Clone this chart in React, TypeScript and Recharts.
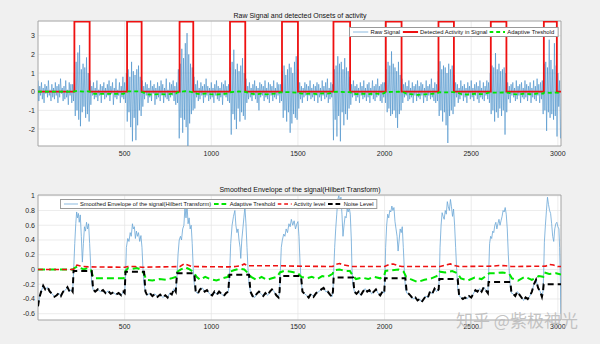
import React from 'react';
import { LineChart, Line, XAxis, YAxis, CartesianGrid, ReferenceArea, Legend } from 'recharts';

const FONT = '"Liberation Sans", Arial, Helvetica, sans-serif';
const GRID = '#e4e4e4';
const BOX = '#9a9a9a';
const TEXT = '#262626';

const X_MAX = 3018;
const xTicks = [500, 1000, 1500, 2000, 2500, 3000];
const rawYTicks = [-2, -1, 0, 1, 2, 3];
const rawYDomain: [number, number] = [-2.91, 3.79];
const envYTicks = [-0.6, -0.4, -0.2, 0, 0.2, 0.4, 0.6, 0.8, 1];
const envYDomain: [number, number] = [-0.685, 1.01];

// raw recording, one value every rawStep samples (rows of 100 samples)
const rawStep = 5;
const rawSignal = [
  0.6, -0.5, 0.3, -0.2, 0.5, -0.4, 0.2, -0.6, 0.4, -0.1, 0.3, -0.3, 0.6, -0.2, 0.1, -0.5, 0.4, -0.3, 0.2, -0.4,
  0.5, -0.2, 0.3, -0.6, 0.4, -0.3, 0.7, -0.1, 0.2, -0.5, 0.3, -0.4, 0.6, -0.3, 0.1, -0.7, 0.5, -0.2, 0.4, -0.6,
  0.4, -0.5, 1.0, -1.3, 1.6, -1.0, 2.1, -1.5, 2.5, -1.85, 1.2, -1.1, 1.5, -0.8, 1.3, -1.4, 1.84, -1.2, 1.0, -1.6,
  0.6, -0.7, 0.3, -0.2, 0.5, -0.4, 0.2, -0.3, 0.6, -0.5, 0.1, -0.2, 0.4, -0.6, 0.3, -0.1, 0.5, -0.4, 0.2, -0.3,
  0.4, -0.2, 0.6, -0.5, 0.3, -0.1, 0.5, -0.7, 0.2, -0.3, 0.7, -0.4, 0.1, -0.2, 0.5, -0.6, 0.3, -0.3, 0.8, -0.4,
  0.5, -0.6, 1.0, -1.6, 1.2, -1.1, 0.8, -1.9, 1.6, -2.66, 1.1, -1.4, 0.9, -2.6, 1.2, -1.8, 1.4, -1.0, 0.8, -1.3,
  0.6, -0.8, 0.3, -0.4, 0.5, -0.2, 0.4, -0.6, 0.2, -0.3, 0.6, -0.5, 0.3, -0.1, 0.4, -0.7, 0.2, -0.4, 0.5, -0.3,
  0.3, -0.5, 0.6, -0.2, 0.4, -0.6, 0.2, -0.3, 0.7, -0.4, 0.1, -0.5, 0.5, -0.3, 0.4, -0.2, 0.6, -0.5, 0.3, -0.7,
  0.5, -0.6, 1.2, -2.5, 1.5, -1.4, 2.3, -2.2, 1.8, -1.5, 2.6, -1.9, 3.14, -2.9, 2.0, -1.7, 1.5, -1.2, 1.3, -1.0,
  0.8, -0.9, 0.4, -0.3, 0.6, -0.5, 0.2, -0.4, 0.5, -0.2, 0.3, -0.6, 0.4, -0.3, 0.7, -0.2, 0.3, -0.5, 0.2, -0.4,
  0.5, -0.3, 0.2, -0.6, 0.4, -0.2, 0.6, -0.4, 0.3, -0.5, 0.2, -0.3, 0.5, -0.7, 0.4, -0.2, 0.6, -0.3, 0.3, -0.5,
  0.4, -0.6, 1.3, -2.3, 1.6, -1.2, 2.25, -1.5, 1.2, -2.0, 1.5, -0.9, 1.1, -1.6, 1.4, -1.1, 1.8, -1.3, 1.0, -1.5,
  0.7, -0.6, 0.3, -0.4, 0.5, -0.3, 0.2, -0.5, 0.4, -0.2, 0.6, -0.4, 0.3, -0.6, 0.2, -1.0, 0.5, -0.3, 0.4, -0.2,
  0.3, -0.5, 0.6, -0.3, 0.2, -0.4, 0.5, -0.6, 0.4, -0.2, 0.3, -0.5, 0.6, -0.3, 0.2, -0.4, 0.5, -0.2, 0.4, -0.6,
  0.4, -0.5, 1.1, -1.4, 1.4, -1.0, 0.9, -1.6, 1.2, -1.1, 1.5, -2.2, 1.3, -1.7, 1.0, -1.2, 1.6, -1.4, 1.9, -1.5,
  1.2, -0.9, 0.5, -0.4, 0.3, -0.6, 0.2, -0.3, 0.5, -0.2, 0.4, -0.5, 0.3, -0.2, 0.6, -0.4, 0.2, -0.3, 0.4, -0.5,
  0.3, -0.2, 0.5, -0.6, 0.4, -0.3, 0.2, -0.5, 0.6, -0.2, 0.3, -0.4, 0.5, -0.3, 0.7, -0.6, 0.2, -0.4, 0.5, -0.3,
  0.4, -2.6, 1.2, -1.5, 1.4, -2.4, 1.9, -1.3, 1.5, -2.66, 1.6, -1.1, 1.2, -1.8, 1.8, -1.2, 1.3, -1.5, 1.1, -0.9,
  0.8, -0.7, 0.4, -0.3, 0.6, -0.2, 0.3, -0.5, 0.4, -0.3, 0.2, -0.6, 0.5, -0.2, 0.3, -0.4, 0.6, -0.3, 0.2, -0.5,
  0.4, -0.3, 0.5, -0.6, 0.2, -0.2, 0.6, -0.4, 0.3, -0.5, 0.4, -0.3, 0.7, -0.2, 0.3, -0.5, 0.4, -0.6, 0.5, -0.3,
  0.5, -0.6, 1.2, -1.1, 1.6, -0.9, 1.4, -1.3, 2.16, -1.2, 1.5, -1.0, 1.3, -1.4, 1.1, -1.94, 1.6, -1.2, 0.9, -1.0,
  0.7, -0.6, 0.4, -0.3, 0.5, -0.2, 0.3, -0.5, 0.6, -0.4, 0.2, -0.3, 0.5, -0.6, 0.3, -0.2, 0.4, -0.5, 0.6, -0.3,
  0.3, -0.4, 0.5, -0.2, 0.4, -0.6, 0.2, -0.3, 0.6, -0.5, 0.3, -0.2, 0.4, -0.4, 0.7, -0.3, 0.2, -0.5, 0.5, -0.6,
  0.4, -0.5, 1.1, -1.3, 1.63, -1.0, 1.2, -1.6, 1.4, -1.1, 1.3, -1.8, 1.0, -2.75, 1.5, -1.3, 1.2, -1.0, 1.4, -1.2,
  0.9, -0.8, 0.5, -0.3, 0.4, -0.6, 0.2, -0.4, 0.6, -0.2, 0.3, -0.5, 0.4, -0.3, 0.2, -0.6, 0.5, -0.2, 0.3, -0.4,
  0.6, -0.3, 0.2, -0.5, 0.4, -0.2, 0.5, -0.4, 0.3, -0.6, 0.6, -0.3, 0.2, -0.4, 0.5, -0.5, 0.3, -0.2, 0.6, -0.4,
  0.5, -0.6, 1.0, -1.2, 1.4, -1.0, 1.3, -1.6, 2.07, -1.1, 1.2, -1.4, 1.5, -0.9, 1.1, -1.3, 1.2, -1.0, 1.3, -2.3,
  1.0, -1.1, 0.5, -0.4, 0.3, -0.6, 0.4, -0.2, 0.5, -0.3, 0.2, -0.5, 0.6, -0.4, 0.3, -0.2, 0.4, -0.6, 0.5, -0.3,
  0.2, -0.4, 0.6, -0.3, 0.4, -0.5, 0.3, -0.2, 0.5, -0.6, 0.2, -0.3, 0.6, -0.4, 0.3, -0.5, 0.7, -0.2, 0.4, -0.6,
  0.5, -0.4, 0.6, -1.2, 1.5, -1.0, 1.6, -2.1, 1.3, -1.1, 2.79, -1.4, 1.7, -1.2, 1.2, -1.5, 2.6, -1.3, 1.4, -2.4,
  1.0, -0.8, 0.6, -2.5,
];

// detected activity: on/off sample of each pulse
const activityOnsets = [210, 514, 817, 1108, 1408, 1705, 2007, 2311, 2613, 2919];
const activityOffsets = [298, 598, 896, 1196, 1500, 1801, 2098, 2400, 2703, 2994];
const activityHeight = 3.76;

// smoothed Hilbert envelope [sample, value]
const envelope: [number, number][] = [
  [0, -0.5], [8, -0.38], [18, -0.3], [30, -0.22], [42, -0.27], [55, -0.24], [68, -0.3], [82, -0.33], [95, -0.37],
  [108, -0.35], [120, -0.32], [132, -0.36], [145, -0.3], [158, -0.28], [170, -0.24], [182, -0.3], [192, -0.27], [200, -0.3],
  [205, -0.05], [212, 0.35], [218, 0.62], [223, 0.78], [228, 0.7], [233, 0.76], [238, 0.64], [244, 0.74], [250, 0.45],
  [256, 0.1], [262, 0.35], [268, 0.58], [274, 0.52], [280, 0.64], [286, 0.55], [292, 0.62], [298, 0.35], [304, 0.05], [310, -0.18],
  [318, -0.27], [330, -0.3], [345, -0.27], [360, -0.3], [375, -0.28], [390, -0.32], [405, -0.29], [420, -0.33], [435, -0.31],
  [450, -0.34], [465, -0.32], [480, -0.35], [492, -0.3], [500, -0.32],
  [505, -0.1], [510, 0.3], [518, 0.42], [525, 0.38], [532, 0.5], [538, 0.45], [545, 0.62], [550, 0.55], [556, 0.58],
  [562, 0.42], [568, 0.52], [574, 0.45], [580, 0.5], [587, 0.38], [594, 0.46], [600, 0.3], [606, 0.0], [612, -0.2],
  [620, -0.3], [630, -0.35], [645, -0.32], [660, -0.36], [675, -0.33], [690, -0.37], [705, -0.34], [720, -0.38], [735, -0.35],
  [748, -0.38], [760, -0.32], [772, -0.34], [785, -0.26], [795, -0.3],
  [802, -0.1], [808, 0.2], [815, 0.4], [822, 0.45], [828, 0.4], [835, 0.55], [842, 0.6], [848, 0.85], [854, 0.7],
  [860, 0.88], [866, 0.62], [872, 0.7], [878, 0.55], [884, 0.6], [890, 0.35], [896, 0.0], [902, -0.2],
  [910, -0.3], [922, -0.33], [935, -0.27], [948, -0.25], [962, -0.3], [975, -0.28], [990, -0.33], [1005, -0.35], [1018, -0.3],
  [1032, -0.34], [1045, -0.3], [1058, -0.33], [1072, -0.36], [1085, -0.32], [1098, -0.3],
  [1105, -0.1], [1112, 0.35], [1120, 0.6], [1128, 0.72], [1136, 0.8], [1142, 0.6], [1148, 0.5], [1154, 0.55], [1160, 0.4],
  [1166, 0.3], [1170, 0.15], [1176, 0.4], [1182, 0.55], [1188, 0.7], [1194, 0.85], [1200, 0.62], [1206, 0.3], [1212, 0.0],
  [1218, -0.2], [1226, -0.3], [1238, -0.36], [1250, -0.38], [1262, -0.33], [1275, -0.3], [1288, -0.33], [1300, -0.36], [1312, -0.32],
  [1325, -0.35], [1338, -0.3], [1350, -0.27], [1362, -0.3], [1375, -0.35], [1388, -0.38], [1394, -0.3],
  [1398, -0.05], [1404, 0.3], [1410, 0.4], [1418, 0.48], [1425, 0.45], [1432, 0.55], [1440, 0.5], [1448, 0.62], [1455, 0.58],
  [1462, 0.68], [1470, 0.6], [1478, 0.66], [1486, 0.55], [1494, 0.62], [1500, 0.65], [1506, 0.45], [1512, 0.1],
  [1518, -0.15], [1526, -0.3], [1538, -0.33], [1550, -0.35], [1562, -0.38], [1575, -0.33], [1590, -0.37], [1605, -0.32], [1620, -0.3],
  [1635, -0.27], [1648, -0.25], [1660, -0.3], [1672, -0.3], [1685, -0.34], [1696, -0.37], [1702, -0.3],
  [1706, -0.05], [1712, 0.3], [1718, 0.55], [1724, 0.75], [1730, 0.95], [1736, 1.0], [1742, 0.9], [1748, 0.98], [1754, 0.75],
  [1760, 0.45], [1766, 0.6], [1772, 0.72], [1778, 0.7], [1784, 0.82], [1790, 0.78], [1796, 0.84], [1802, 0.75], [1808, 0.4], [1812, 0.0],
  [1818, -0.22], [1826, -0.3], [1838, -0.33], [1850, -0.3], [1862, -0.35], [1875, -0.3], [1888, -0.26], [1900, -0.3], [1912, -0.28],
  [1925, -0.33], [1938, -0.3], [1950, -0.27], [1962, -0.32], [1975, -0.35], [1988, -0.3], [1998, -0.32],
  [2002, -0.1], [2006, 0.3], [2012, 0.6], [2018, 0.75], [2024, 0.7], [2030, 0.8], [2036, 0.78], [2042, 0.86], [2048, 0.8],
  [2054, 0.84], [2060, 0.65], [2066, 0.55], [2072, 0.45], [2078, 0.25], [2084, 0.4], [2090, 0.55], [2096, 0.5], [2102, 0.58],
  [2108, 0.3], [2114, 0.0],
  [2120, -0.25], [2128, -0.32], [2140, -0.33], [2152, -0.36], [2165, -0.4], [2178, -0.38], [2190, -0.42], [2202, -0.4], [2214, -0.44],
  [2226, -0.4], [2238, -0.36], [2250, -0.38], [2262, -0.3], [2275, -0.33], [2288, -0.26], [2300, -0.3], [2312, -0.27],
  [2316, -0.1], [2320, 0.3], [2326, 0.6], [2332, 0.77], [2338, 0.72], [2344, 0.68], [2350, 0.8], [2356, 0.75], [2362, 0.92],
  [2368, 0.85], [2374, 0.8], [2380, 0.95], [2386, 0.85], [2392, 0.72], [2398, 0.82], [2404, 0.6], [2410, 0.3], [2416, 0.0],
  [2422, -0.25], [2430, -0.35], [2440, -0.38], [2452, -0.4], [2464, -0.38], [2476, -0.4], [2488, -0.36], [2500, -0.38], [2512, -0.33],
  [2524, -0.28], [2536, -0.3], [2548, -0.26], [2560, -0.3], [2572, -0.24], [2584, -0.28], [2596, -0.32],
  [2600, -0.1], [2606, 0.35], [2612, 0.45], [2618, 0.42], [2624, 0.52], [2630, 0.5], [2636, 0.6], [2642, 0.64], [2648, 0.55],
  [2654, 0.62], [2660, 0.68], [2666, 0.6], [2672, 0.66], [2678, 0.72], [2684, 0.8], [2690, 0.78], [2696, 0.84], [2702, 0.75],
  [2708, 0.55], [2714, 0.2], [2720, -0.05],
  [2726, -0.25], [2732, -0.32], [2742, -0.33], [2754, -0.36], [2766, -0.3], [2778, -0.34], [2790, -0.38], [2802, -0.42], [2814, -0.38],
  [2826, -0.4], [2838, -0.36], [2850, -0.3], [2862, -0.2], [2874, -0.14], [2886, -0.25], [2898, -0.3], [2908, -0.37], [2914, -0.3],
  [2918, -0.05], [2922, 0.37], [2928, 0.6], [2934, 0.8], [2940, 0.98], [2946, 0.88], [2952, 0.8], [2958, 0.76], [2964, 0.62],
  [2970, 0.45], [2976, 0.38], [2982, 0.55], [2988, 0.62], [2994, 0.64], [3000, 0.58], [3006, 0.55], [3010, 0.3], [3014, -0.1], [3018, -0.6],
];

// adaptive threshold [sample, value]
const threshold: [number, number][] = [
  [0, 0], [200, 0], [210, 0.02], [225, 0.04], [245, 0.02], [265, 0.0], [285, 0.02], [305, 0.0], [318, -0.1], [330, -0.12],
  [420, -0.12], [495, -0.12], [505, -0.02], [520, 0.02], [545, 0.01], [570, 0.02], [595, 0.0], [612, -0.06], [625, -0.14],
  [660, -0.15], [700, -0.13], [740, -0.14], [770, -0.12], [795, -0.1], [805, -0.03], [825, 0.0], [850, 0.03], [875, 0.0],
  [900, -0.04], [915, -0.1], [935, -0.14], [965, -0.1], [995, -0.13], [1030, -0.15], [1065, -0.12], [1095, -0.1], [1108, -0.03],
  [1130, -0.01], [1160, 0.01], [1190, 0.0], [1212, -0.05], [1230, -0.1], [1260, -0.14], [1290, -0.1], [1320, -0.14], [1350, -0.12],
  [1380, -0.1], [1396, -0.04], [1420, -0.02], [1460, -0.03], [1500, -0.05], [1520, -0.1], [1550, -0.12], [1580, -0.1], [1610, -0.13],
  [1640, -0.09], [1670, -0.1], [1700, -0.06], [1708, -0.01], [1740, 0.0], [1770, -0.02], [1800, -0.02], [1815, -0.08], [1835, -0.13],
  [1870, -0.11], [1905, -0.13], [1940, -0.1], [1975, -0.12], [1998, -0.08], [2005, -0.02], [2040, -0.01], [2080, 0.0], [2110, -0.03],
  [2125, -0.1], [2150, -0.13], [2190, -0.17], [2230, -0.14], [2270, -0.12], [2300, -0.09], [2318, -0.03], [2350, -0.04], [2390, -0.02],
  [2420, -0.05], [2440, -0.12], [2480, -0.15], [2520, -0.11], [2560, -0.13], [2590, -0.08], [2604, -0.05], [2640, -0.05], [2680, -0.04],
  [2720, -0.06], [2735, -0.12], [2770, -0.15], [2810, -0.1], [2850, -0.14], [2890, -0.09], [2916, -0.1], [2922, -0.04], [2950, -0.06],
  [2990, -0.05], [3018, -0.07],
];

// activity level [sample, value]
const activityLevel: [number, number][] = [
  [0, 0], [205, 0], [215, 0.04], [225, 0.06], [240, 0.05], [260, 0.04], [300, 0.035], [500, 0.03], [520, 0.04], [560, 0.04],
  [600, 0.03], [820, 0.04], [845, 0.08], [865, 0.06], [890, 0.04], [1100, 0.035], [1140, 0.04], [1170, 0.05], [1190, 0.075],
  [1210, 0.05], [1400, 0.05], [1500, 0.045], [1700, 0.04], [1720, 0.07], [1740, 0.08], [1760, 0.065], [1790, 0.05], [1810, 0.04],
  [2000, 0.04], [2030, 0.07], [2050, 0.075], [2080, 0.05], [2100, 0.04], [2320, 0.04], [2350, 0.06], [2380, 0.075], [2410, 0.05],
  [2430, 0.04], [2620, 0.045], [2660, 0.055], [2700, 0.05], [2730, 0.04], [2930, 0.045], [2950, 0.07], [2975, 0.06], [3000, 0.04],
  [3018, 0.04],
];

// noise level holds a constant value while a burst is active
const noiseOn = [205, 505, 802, 1105, 1398, 1706, 2002, 2316, 2600, 2918];
const noiseOff = [310, 612, 902, 1218, 1518, 1818, 2120, 2422, 2726, 3018];
const noisePlateau = [-0.02, -0.03, -0.05, -0.07, -0.09, -0.11, -0.12, -0.13, -0.17, -0.2];

const rawData = rawSignal.map((y, i) => ({ x: i * rawStep, y }));
const activityData = [{ x: 0, y: 0 }];
activityOnsets.forEach((on, i) => {
  activityData.push({ x: on, y: 0 }, { x: on, y: activityHeight }, { x: activityOffsets[i], y: activityHeight }, { x: activityOffsets[i], y: 0 });
});
activityData.push({ x: X_MAX, y: 0 });
const toPoints = (arr: [number, number][]) => arr.map(([x, y]) => ({ x, y }));
const envelopeData = toPoints(envelope);
const thresholdData = toPoints(threshold);
const activityLevelData = toPoints(activityLevel);
const noiseData = envelope.map(([x, y]) => {
  const k = noiseOn.findIndex((on, i) => x >= on && x <= noiseOff[i]);
  return { x, y: k >= 0 ? noisePlateau[k] : y };
});

interface LegendItem {
  label: string;
  color: string;
  width: number;
  dash?: string;
}

function LegendBox({ items, sample, squeeze = 1 }: { items: LegendItem[]; sample: number; squeeze?: number }) {
  return (
    <div
      style={{
        display: 'flex',
        alignItems: 'center',
        background: '#fff',
        border: `1px solid ${BOX}`,
        height: 8,
        padding: '0 2px',
        fontFamily: FONT,
        fontSize: 6,
        color: '#111',
        whiteSpace: 'nowrap',
        transform: `scale(${squeeze}, 1)`,
        transformOrigin: 'left top',
      }}
    >
      {items.map((it) => (
        <span key={it.label} style={{ display: 'flex', alignItems: 'center' }}>
          <svg width={sample} height={6} style={{ marginLeft: 1 }}>
            <line x1={0} y1={3} x2={sample} y2={3} stroke={it.color} strokeWidth={it.width} strokeDasharray={it.dash} />
          </svg>
          <span style={{ marginLeft: 2, marginRight: 1.5 }}>{it.label}</span>
        </span>
      ))}
    </div>
  );
}

const topLegend: LegendItem[] = [
  { label: 'Raw Signal', color: '#6aa6d6', width: 0.8 },
  { label: 'Detected Activity in Signal', color: '#ee1111', width: 1.8 },
  { label: 'Adaptive Treshold', color: '#00e600', width: 1.8, dash: '4 3' },
];

const bottomLegend: LegendItem[] = [
  { label: 'Smoothed Envelope of the signal(Hilbert Transform)', color: '#6aa6d6', width: 0.8 },
  { label: 'Adaptive Treshold', color: '#00e600', width: 2, dash: '5 3' },
  { label: 'Activity level', color: '#ee1111', width: 1.6, dash: '4 3' },
  { label: 'Noise Level', color: '#000', width: 2, dash: '5 3' },
];

const tickStyle = { fontSize: 7, fill: TEXT, fontFamily: FONT };

const titleStyle: React.CSSProperties = {
  position: 'absolute',
  left: 0,
  width: 600,
  textAlign: 'center',
  fontFamily: FONT,
  fontSize: 7,
  lineHeight: '8px',
  color: '#111',
};

export default function App() {
  return (
    <div style={{ position: 'absolute', left: 0, top: 0, width: 600, height: 344, background: '#f0f0f0', overflow: 'hidden' }}>
      <div style={{ ...titleStyle, top: 12 }}>Raw Signal and detected Onsets of activity</div>
      <div style={{ ...titleStyle, top: 186 }}>Smoothed Envelope of the signal(Hilbert Transform)</div>

      <div style={{ position: 'absolute', left: 0, top: 0 }}>
        <LineChart width={600} height={172} margin={{ top: 21, right: 39, bottom: 6, left: 8 }}>
          <CartesianGrid fill="#fff" stroke={GRID} strokeWidth={0.7} />
          <XAxis type="number" dataKey="x" domain={[0, X_MAX]} ticks={xTicks} interval={0} allowDataOverflow
            axisLine={false} tickLine={false} tickSize={0} tickMargin={5} height={20} tick={tickStyle} />
          <YAxis type="number" domain={rawYDomain} ticks={rawYTicks} interval={0} allowDataOverflow width={30}
            axisLine={false} tickLine={false} tickSize={0} tickMargin={3} tick={tickStyle} />
          <Line data={rawData} dataKey="y" type="linear" stroke="#3584c4" strokeWidth={0.55} dot={false} isAnimationActive={false} />
          <Line data={activityData} dataKey="y" type="linear" stroke="#ee1111" strokeWidth={1.8} dot={false} isAnimationActive={false} />
          <Line data={thresholdData} dataKey="y" type="linear" stroke="#00e600" strokeWidth={1.8} strokeDasharray="4 3" dot={false} isAnimationActive={false} />
          <ReferenceArea x1={0} x2={X_MAX} y1={rawYDomain[0]} y2={rawYDomain[1]} fill="none" stroke={BOX} strokeWidth={0.8} />
          <Legend verticalAlign="middle" align="center" wrapperStyle={{ left: 349, top: 27, width: 'auto' }}
            content={() => <LegendBox items={topLegend} sample={16} squeeze={0.975} />} />
        </LineChart>
      </div>

      <div style={{ position: 'absolute', left: 0, top: 172 }}>
        <LineChart width={600} height={172} margin={{ top: 23, right: 39, bottom: 4, left: 8 }}>
          <CartesianGrid fill="#fff" stroke={GRID} strokeWidth={0.7} />
          <XAxis type="number" dataKey="x" domain={[0, X_MAX]} ticks={xTicks} interval={0} allowDataOverflow
            axisLine={false} tickLine={false} tickSize={0} tickMargin={4} height={20} tick={tickStyle} />
          <YAxis type="number" domain={envYDomain} ticks={envYTicks} interval={0} allowDataOverflow width={30}
            axisLine={false} tickLine={false} tickSize={0} tickMargin={3} tick={tickStyle} />
          <Line data={envelopeData} dataKey="y" type="linear" stroke="#6aa6d6" strokeWidth={0.8} dot={false} isAnimationActive={false} />
          <Line data={thresholdData} dataKey="y" type="linear" stroke="#00e600" strokeWidth={2} strokeDasharray="7 4" dot={false} isAnimationActive={false} />
          <Line data={activityLevelData} dataKey="y" type="linear" stroke="#ee1111" strokeWidth={1.6} strokeDasharray="5 3" dot={false} isAnimationActive={false} />
          <Line data={noiseData} dataKey="y" type="linear" stroke="#000" strokeWidth={2} strokeDasharray="6 4" dot={false} isAnimationActive={false} />
          <ReferenceArea x1={0} x2={X_MAX} y1={envYDomain[0]} y2={envYDomain[1]} fill="none" stroke={BOX} strokeWidth={0.8} />
          <Legend verticalAlign="middle" align="center" wrapperStyle={{ left: 60, top: 27, width: 'auto' }}
            content={() => <LegendBox items={bottomLegend} sample={15} squeeze={0.95} />} />
        </LineChart>
      </div>

      <div
        style={{
          position: 'absolute',
          left: 456,
          top: 310,
          fontFamily: '"Noto Sans CJK SC", sans-serif',
          fontSize: 17,
          lineHeight: '20px',
          color: 'rgba(185,185,185,0.85)',
          whiteSpace: 'nowrap',
        }}
      >
        知乎 @紫极神光
      </div>
    </div>
  );
}
